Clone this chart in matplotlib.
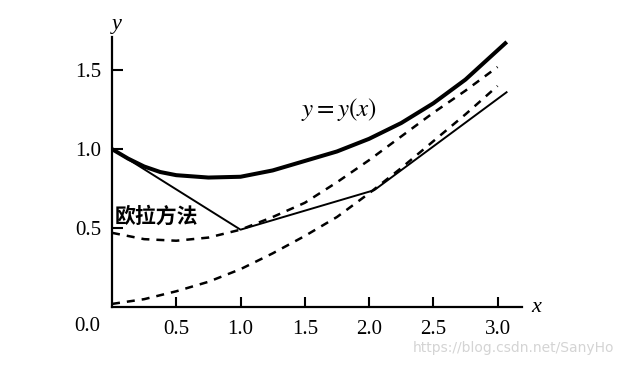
import matplotlib
matplotlib.use("Agg")
import matplotlib.pyplot as plt

plt.rcParams["mathtext.fontset"] = "stix"

# values
x_exact = [0, 0.125, 0.25, 0.375, 0.5, 0.75, 1.0, 1.25, 1.5, 1.75, 2.0, 2.25, 2.5, 2.75, 3.06]
y_exact = [1.0, 0.94, 0.89, 0.855, 0.835, 0.82, 0.825, 0.865, 0.925, 0.985, 1.065, 1.165, 1.29, 1.44, 1.67]

x_euler = [0, 1.0, 2.04, 3.07]
y_euler = [1.0, 0.49, 0.74, 1.36]

x_dash = [0, 0.25, 0.5, 0.75, 1.0, 1.25, 1.5, 1.75, 2.0, 2.25, 2.5, 2.75, 3.0]
y_dash_upper = [0.47, 0.43, 0.42, 0.44, 0.49, 0.57, 0.66, 0.79, 0.93, 1.08, 1.23, 1.37, 1.52]
y_dash_lower = [0.02, 0.05, 0.10, 0.16, 0.24, 0.34, 0.45, 0.57, 0.72, 0.88, 1.05, 1.22, 1.40]

xticks = [0.5, 1.0, 1.5, 2.0, 2.5, 3.0]
yticks = [0.5, 1.0, 1.5]

fig = plt.figure(figsize=(6.24, 3.66), dpi=100)
ax = fig.add_axes([0.1795, 0.161, 0.657, 0.738])

ax.plot(x_exact, y_exact, color="black", lw=2.9, solid_joinstyle="round")
ax.plot(x_euler, y_euler, color="black", lw=1.4)
ax.plot(x_dash, y_dash_upper, color="black", lw=1.8, ls=(0, (3.2, 2.8)))
ax.plot(x_dash, y_dash_lower, color="black", lw=1.8, ls=(0, (3.2, 2.8)))

ax.set_xlim(0, 3.19)
ax.set_ylim(0, 1.71)
ax.spines["top"].set_visible(False)
ax.spines["right"].set_visible(False)
for s in ["left", "bottom"]:
    ax.spines[s].set_linewidth(1.6)

serif = "Liberation Serif"
ax.set_xticks(xticks)
ax.set_xticklabels(["%.1f" % v for v in xticks], fontfamily=serif, fontsize=15)
ax.set_yticks(yticks)
ax.set_yticklabels(["%.1f" % v for v in yticks], fontfamily=serif, fontsize=15)
ax.tick_params(axis="y", direction="in", length=8, width=1.5, pad=8)
ax.tick_params(axis="x", direction="in", length=7, width=1.5, pad=9)

ax.text(-0.09, -0.12, "0.0", fontfamily=serif, fontsize=15, ha="right", va="center")
ax.text(0.04, 1.79, "y", fontfamily=serif, fontstyle="italic", fontsize=16,
        ha="center", va="center", clip_on=False)
ax.text(3.30, 0.0, "x", fontfamily=serif, fontstyle="italic", fontsize=16,
        ha="center", va="center", clip_on=False)

ax.text(1.47, 1.25, r"$y=y(x)$", fontsize=18, ha="left", va="center")
ax.text(0.02, 0.575, "欧拉方法", fontfamily="Noto Sans CJK SC", fontweight="bold",
        fontsize=15, ha="left", va="center")

fig.text(0.985, 0.05, "https://blog.csdn.net/SanyHo", color="#d4d4d4",
         fontfamily="DejaVu Sans", fontsize=10, ha="right", va="center")

fig.savefig("out.png", dpi=100)
